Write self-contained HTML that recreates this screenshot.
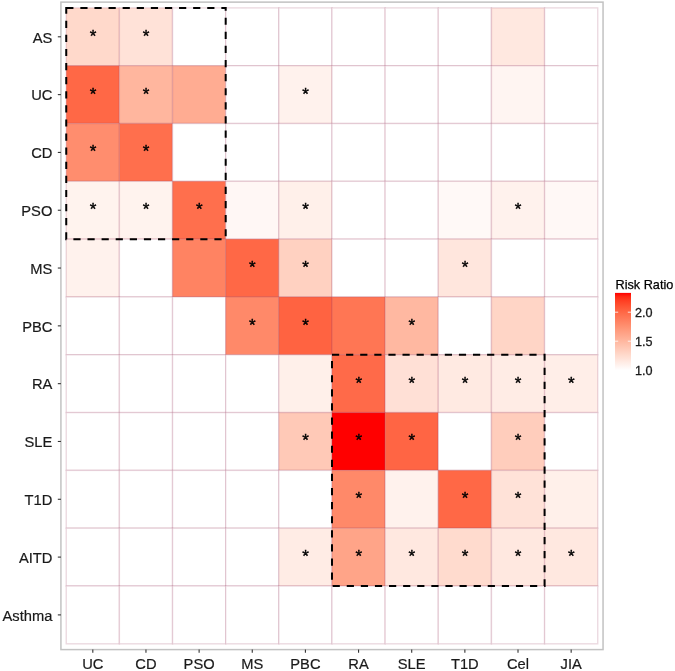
<!DOCTYPE html>
<html><head><meta charset="utf-8"><style>
html,body{margin:0;padding:0;background:#fff;}
svg{display:block;}
text{font-family:"Liberation Sans",Arial,sans-serif;}
</style></head><body>
<svg width="675" height="671" viewBox="0 0 675 671">
<rect width="675" height="671" fill="#fff"/>
<g stroke="#A04868" stroke-opacity="0.2" stroke-width="1.4">
<rect x="66.24" y="7.90" width="53.15" height="57.81" fill="#FFD9CB"/>
<rect x="119.39" y="7.90" width="53.15" height="57.81" fill="#FFE2D8"/>
<rect x="172.54" y="7.90" width="53.15" height="57.81" fill="#FFFFFF"/>
<rect x="225.69" y="7.90" width="53.15" height="57.81" fill="#FFFFFF"/>
<rect x="278.84" y="7.90" width="53.15" height="57.81" fill="#FFFFFF"/>
<rect x="331.99" y="7.90" width="53.15" height="57.81" fill="#FFFFFF"/>
<rect x="385.14" y="7.90" width="53.15" height="57.81" fill="#FFFFFF"/>
<rect x="438.29" y="7.90" width="53.15" height="57.81" fill="#FFFFFF"/>
<rect x="491.44" y="7.90" width="53.15" height="57.81" fill="#FFE8E0"/>
<rect x="544.59" y="7.90" width="53.15" height="57.81" fill="#FFFFFF"/>
<rect x="66.24" y="65.71" width="53.15" height="57.81" fill="#FF6846"/>
<rect x="119.39" y="65.71" width="53.15" height="57.81" fill="#FFB69E"/>
<rect x="172.54" y="65.71" width="53.15" height="57.81" fill="#FFAC92"/>
<rect x="225.69" y="65.71" width="53.15" height="57.81" fill="#FFFFFF"/>
<rect x="278.84" y="65.71" width="53.15" height="57.81" fill="#FFF2ED"/>
<rect x="331.99" y="65.71" width="53.15" height="57.81" fill="#FFFFFF"/>
<rect x="385.14" y="65.71" width="53.15" height="57.81" fill="#FFFFFF"/>
<rect x="438.29" y="65.71" width="53.15" height="57.81" fill="#FFFFFF"/>
<rect x="491.44" y="65.71" width="53.15" height="57.81" fill="#FFF5F2"/>
<rect x="544.59" y="65.71" width="53.15" height="57.81" fill="#FFFFFF"/>
<rect x="66.24" y="123.52" width="53.15" height="57.81" fill="#FF8D6E"/>
<rect x="119.39" y="123.52" width="53.15" height="57.81" fill="#FF6F4D"/>
<rect x="172.54" y="123.52" width="53.15" height="57.81" fill="#FFFFFF"/>
<rect x="225.69" y="123.52" width="53.15" height="57.81" fill="#FFFFFF"/>
<rect x="278.84" y="123.52" width="53.15" height="57.81" fill="#FFFFFF"/>
<rect x="331.99" y="123.52" width="53.15" height="57.81" fill="#FFFFFF"/>
<rect x="385.14" y="123.52" width="53.15" height="57.81" fill="#FFFFFF"/>
<rect x="438.29" y="123.52" width="53.15" height="57.81" fill="#FFFFFF"/>
<rect x="491.44" y="123.52" width="53.15" height="57.81" fill="#FFFFFF"/>
<rect x="544.59" y="123.52" width="53.15" height="57.81" fill="#FFFFFF"/>
<rect x="66.24" y="181.33" width="53.15" height="57.81" fill="#FFF3EE"/>
<rect x="119.39" y="181.33" width="53.15" height="57.81" fill="#FFF3EE"/>
<rect x="172.54" y="181.33" width="53.15" height="57.81" fill="#FF6F4D"/>
<rect x="225.69" y="181.33" width="53.15" height="57.81" fill="#FFF7F5"/>
<rect x="278.84" y="181.33" width="53.15" height="57.81" fill="#FFF0EA"/>
<rect x="331.99" y="181.33" width="53.15" height="57.81" fill="#FFFFFF"/>
<rect x="385.14" y="181.33" width="53.15" height="57.81" fill="#FFFFFF"/>
<rect x="438.29" y="181.33" width="53.15" height="57.81" fill="#FFF9F7"/>
<rect x="491.44" y="181.33" width="53.15" height="57.81" fill="#FFF2ED"/>
<rect x="544.59" y="181.33" width="53.15" height="57.81" fill="#FFF8F6"/>
<rect x="66.24" y="239.14" width="53.15" height="57.81" fill="#FFF2ED"/>
<rect x="119.39" y="239.14" width="53.15" height="57.81" fill="#FFFFFF"/>
<rect x="172.54" y="239.14" width="53.15" height="57.81" fill="#FF8362"/>
<rect x="225.69" y="239.14" width="53.15" height="57.81" fill="#FF6846"/>
<rect x="278.84" y="239.14" width="53.15" height="57.81" fill="#FFD1C1"/>
<rect x="331.99" y="239.14" width="53.15" height="57.81" fill="#FFFFFF"/>
<rect x="385.14" y="239.14" width="53.15" height="57.81" fill="#FFFFFF"/>
<rect x="438.29" y="239.14" width="53.15" height="57.81" fill="#FFE6DD"/>
<rect x="491.44" y="239.14" width="53.15" height="57.81" fill="#FFFFFF"/>
<rect x="544.59" y="239.14" width="53.15" height="57.81" fill="#FFFFFF"/>
<rect x="66.24" y="296.95" width="53.15" height="57.81" fill="#FFFFFF"/>
<rect x="119.39" y="296.95" width="53.15" height="57.81" fill="#FFFFFF"/>
<rect x="172.54" y="296.95" width="53.15" height="57.81" fill="#FFFFFF"/>
<rect x="225.69" y="296.95" width="53.15" height="57.81" fill="#FF8969"/>
<rect x="278.84" y="296.95" width="53.15" height="57.81" fill="#FF6341"/>
<rect x="331.99" y="296.95" width="53.15" height="57.81" fill="#FF7654"/>
<rect x="385.14" y="296.95" width="53.15" height="57.81" fill="#FFB8A1"/>
<rect x="438.29" y="296.95" width="53.15" height="57.81" fill="#FFFFFF"/>
<rect x="491.44" y="296.95" width="53.15" height="57.81" fill="#FFD5C6"/>
<rect x="544.59" y="296.95" width="53.15" height="57.81" fill="#FFFFFF"/>
<rect x="66.24" y="354.76" width="53.15" height="57.81" fill="#FFFFFF"/>
<rect x="119.39" y="354.76" width="53.15" height="57.81" fill="#FFFFFF"/>
<rect x="172.54" y="354.76" width="53.15" height="57.81" fill="#FFFFFF"/>
<rect x="225.69" y="354.76" width="53.15" height="57.81" fill="#FFFFFF"/>
<rect x="278.84" y="354.76" width="53.15" height="57.81" fill="#FFF0EA"/>
<rect x="331.99" y="354.76" width="53.15" height="57.81" fill="#FF6A49"/>
<rect x="385.14" y="354.76" width="53.15" height="57.81" fill="#FFE0D6"/>
<rect x="438.29" y="354.76" width="53.15" height="57.81" fill="#FFEAE2"/>
<rect x="491.44" y="354.76" width="53.15" height="57.81" fill="#FFECE5"/>
<rect x="544.59" y="354.76" width="53.15" height="57.81" fill="#FFEEE8"/>
<rect x="66.24" y="412.57" width="53.15" height="57.81" fill="#FFFFFF"/>
<rect x="119.39" y="412.57" width="53.15" height="57.81" fill="#FFFFFF"/>
<rect x="172.54" y="412.57" width="53.15" height="57.81" fill="#FFFFFF"/>
<rect x="225.69" y="412.57" width="53.15" height="57.81" fill="#FFFFFF"/>
<rect x="278.84" y="412.57" width="53.15" height="57.81" fill="#FFC9B7"/>
<rect x="331.99" y="412.57" width="53.15" height="57.81" fill="#FF0000"/>
<rect x="385.14" y="412.57" width="53.15" height="57.81" fill="#FF6544"/>
<rect x="438.29" y="412.57" width="53.15" height="57.81" fill="#FFFFFF"/>
<rect x="491.44" y="412.57" width="53.15" height="57.81" fill="#FFCDBC"/>
<rect x="544.59" y="412.57" width="53.15" height="57.81" fill="#FFFFFF"/>
<rect x="66.24" y="470.38" width="53.15" height="57.81" fill="#FFFFFF"/>
<rect x="119.39" y="470.38" width="53.15" height="57.81" fill="#FFFFFF"/>
<rect x="172.54" y="470.38" width="53.15" height="57.81" fill="#FFFFFF"/>
<rect x="225.69" y="470.38" width="53.15" height="57.81" fill="#FFFFFF"/>
<rect x="278.84" y="470.38" width="53.15" height="57.81" fill="#FFFFFF"/>
<rect x="331.99" y="470.38" width="53.15" height="57.81" fill="#FF8969"/>
<rect x="385.14" y="470.38" width="53.15" height="57.81" fill="#FFF2ED"/>
<rect x="438.29" y="470.38" width="53.15" height="57.81" fill="#FF6846"/>
<rect x="491.44" y="470.38" width="53.15" height="57.81" fill="#FFE2D8"/>
<rect x="544.59" y="470.38" width="53.15" height="57.81" fill="#FFF0EA"/>
<rect x="66.24" y="528.19" width="53.15" height="57.81" fill="#FFFFFF"/>
<rect x="119.39" y="528.19" width="53.15" height="57.81" fill="#FFFFFF"/>
<rect x="172.54" y="528.19" width="53.15" height="57.81" fill="#FFFFFF"/>
<rect x="225.69" y="528.19" width="53.15" height="57.81" fill="#FFFFFF"/>
<rect x="278.84" y="528.19" width="53.15" height="57.81" fill="#FFECE5"/>
<rect x="331.99" y="528.19" width="53.15" height="57.81" fill="#FFA488"/>
<rect x="385.14" y="528.19" width="53.15" height="57.81" fill="#FFE8E0"/>
<rect x="438.29" y="528.19" width="53.15" height="57.81" fill="#FFDBCE"/>
<rect x="491.44" y="528.19" width="53.15" height="57.81" fill="#FFE8E0"/>
<rect x="544.59" y="528.19" width="53.15" height="57.81" fill="#FFE8E0"/>
<rect x="66.24" y="586.00" width="53.15" height="57.81" fill="#FFFFFF"/>
<rect x="119.39" y="586.00" width="53.15" height="57.81" fill="#FFFFFF"/>
<rect x="172.54" y="586.00" width="53.15" height="57.81" fill="#FFFFFF"/>
<rect x="225.69" y="586.00" width="53.15" height="57.81" fill="#FFFFFF"/>
<rect x="278.84" y="586.00" width="53.15" height="57.81" fill="#FFFFFF"/>
<rect x="331.99" y="586.00" width="53.15" height="57.81" fill="#FFFFFF"/>
<rect x="385.14" y="586.00" width="53.15" height="57.81" fill="#FFFFFF"/>
<rect x="438.29" y="586.00" width="53.15" height="57.81" fill="#FFFFFF"/>
<rect x="491.44" y="586.00" width="53.15" height="57.81" fill="#FFFFFF"/>
<rect x="544.59" y="586.00" width="53.15" height="57.81" fill="#FFFFFF"/>
</g>
<g font-size="17" text-anchor="middle" fill="#000" stroke="#000" stroke-width="0.4">
<text x="92.97" y="41.76">*</text>
<text x="146.11" y="41.76">*</text>
<text x="92.97" y="99.57">*</text>
<text x="146.11" y="99.57">*</text>
<text x="305.56" y="99.57">*</text>
<text x="92.97" y="157.38">*</text>
<text x="146.11" y="157.38">*</text>
<text x="92.97" y="215.19">*</text>
<text x="146.11" y="215.19">*</text>
<text x="199.27" y="215.19">*</text>
<text x="305.56" y="215.19">*</text>
<text x="518.16" y="215.19">*</text>
<text x="252.41" y="272.99">*</text>
<text x="305.56" y="272.99">*</text>
<text x="465.01" y="272.99">*</text>
<text x="252.41" y="330.81">*</text>
<text x="305.56" y="330.81">*</text>
<text x="411.86" y="330.81">*</text>
<text x="358.71" y="388.61">*</text>
<text x="411.86" y="388.61">*</text>
<text x="465.01" y="388.61">*</text>
<text x="518.16" y="388.61">*</text>
<text x="571.31" y="388.61">*</text>
<text x="305.56" y="446.43">*</text>
<text x="358.71" y="446.43">*</text>
<text x="411.86" y="446.43">*</text>
<text x="518.16" y="446.43">*</text>
<text x="358.71" y="504.23">*</text>
<text x="465.01" y="504.23">*</text>
<text x="518.16" y="504.23">*</text>
<text x="305.56" y="562.05">*</text>
<text x="358.71" y="562.05">*</text>
<text x="411.86" y="562.05">*</text>
<text x="465.01" y="562.05">*</text>
<text x="518.16" y="562.05">*</text>
<text x="571.31" y="562.05">*</text>
</g>
<rect x="66.24" y="7.90" width="159.45" height="231.24" fill="none" stroke="#000" stroke-width="2" stroke-dasharray="7.2 6.9"/>
<rect x="331.99" y="354.76" width="212.60" height="231.24" fill="none" stroke="#000" stroke-width="2" stroke-dasharray="7.2 6.9"/>
<rect x="60.92" y="2.12" width="542.13" height="647.47" fill="none" stroke="#C2C2C2" stroke-width="1.5"/>
<g stroke="#333" stroke-width="1.1">
<line x1="57.82" y1="36.80" x2="60.92" y2="36.80"/>
<line x1="57.82" y1="94.62" x2="60.92" y2="94.62"/>
<line x1="57.82" y1="152.43" x2="60.92" y2="152.43"/>
<line x1="57.82" y1="210.24" x2="60.92" y2="210.24"/>
<line x1="57.82" y1="268.04" x2="60.92" y2="268.04"/>
<line x1="57.82" y1="325.86" x2="60.92" y2="325.86"/>
<line x1="57.82" y1="383.66" x2="60.92" y2="383.66"/>
<line x1="57.82" y1="441.48" x2="60.92" y2="441.48"/>
<line x1="57.82" y1="499.28" x2="60.92" y2="499.28"/>
<line x1="57.82" y1="557.10" x2="60.92" y2="557.10"/>
<line x1="57.82" y1="614.90" x2="60.92" y2="614.90"/>
<line x1="92.81" y1="649.59" x2="92.81" y2="652.69"/>
<line x1="145.96" y1="649.59" x2="145.96" y2="652.69"/>
<line x1="199.12" y1="649.59" x2="199.12" y2="652.69"/>
<line x1="252.26" y1="649.59" x2="252.26" y2="652.69"/>
<line x1="305.41" y1="649.59" x2="305.41" y2="652.69"/>
<line x1="358.56" y1="649.59" x2="358.56" y2="652.69"/>
<line x1="411.71" y1="649.59" x2="411.71" y2="652.69"/>
<line x1="464.87" y1="649.59" x2="464.87" y2="652.69"/>
<line x1="518.01" y1="649.59" x2="518.01" y2="652.69"/>
<line x1="571.16" y1="649.59" x2="571.16" y2="652.69"/>
</g>
<g font-size="14.7" fill="#1a1a1a" stroke="#1a1a1a" stroke-width="0.2">
<text x="52.35" y="42.51" text-anchor="end">AS</text>
<text x="52.35" y="100.32" text-anchor="end">UC</text>
<text x="52.35" y="158.12" text-anchor="end">CD</text>
<text x="52.35" y="215.94" text-anchor="end">PSO</text>
<text x="52.35" y="273.74" text-anchor="end">MS</text>
<text x="52.35" y="331.56" text-anchor="end">PBC</text>
<text x="52.35" y="389.36" text-anchor="end">RA</text>
<text x="52.35" y="447.18" text-anchor="end">SLE</text>
<text x="52.35" y="504.98" text-anchor="end">T1D</text>
<text x="52.35" y="562.80" text-anchor="end">AITD</text>
<text x="52.35" y="620.61" text-anchor="end">Asthma</text>
<text x="92.81" y="669.20" text-anchor="middle">UC</text>
<text x="145.96" y="669.20" text-anchor="middle">CD</text>
<text x="199.12" y="669.20" text-anchor="middle">PSO</text>
<text x="252.26" y="669.20" text-anchor="middle">MS</text>
<text x="305.41" y="669.20" text-anchor="middle">PBC</text>
<text x="358.56" y="669.20" text-anchor="middle">RA</text>
<text x="411.71" y="669.20" text-anchor="middle">SLE</text>
<text x="464.87" y="669.20" text-anchor="middle">T1D</text>
<text x="518.01" y="669.20" text-anchor="middle">Cel</text>
<text x="571.16" y="669.20" text-anchor="middle">JIA</text>
</g>
<defs><linearGradient id="lg" x1="0" y1="1" x2="0" y2="0">
<stop offset="0.00" stop-color="#FFFFFF"/>
<stop offset="0.05" stop-color="#FFF5F2"/>
<stop offset="0.10" stop-color="#FFECE5"/>
<stop offset="0.15" stop-color="#FFE2D8"/>
<stop offset="0.20" stop-color="#FFD9CB"/>
<stop offset="0.25" stop-color="#FFCFBF"/>
<stop offset="0.30" stop-color="#FFC6B2"/>
<stop offset="0.35" stop-color="#FFBCA6"/>
<stop offset="0.40" stop-color="#FFB299"/>
<stop offset="0.45" stop-color="#FFA88D"/>
<stop offset="0.50" stop-color="#FF9E81"/>
<stop offset="0.55" stop-color="#FF9475"/>
<stop offset="0.60" stop-color="#FF8969"/>
<stop offset="0.65" stop-color="#FF7E5E"/>
<stop offset="0.70" stop-color="#FF7352"/>
<stop offset="0.75" stop-color="#FF6846"/>
<stop offset="0.80" stop-color="#FF5B3A"/>
<stop offset="0.85" stop-color="#FF4D2E"/>
<stop offset="0.90" stop-color="#FF3E22"/>
<stop offset="0.95" stop-color="#FF2913"/>
<stop offset="1.00" stop-color="#FF0000"/>
</linearGradient></defs>
<rect x="615" y="292.90" width="16" height="77.30" fill="url(#lg)"/>
<line x1="615" x2="618.2" y1="370.20" y2="370.20" stroke="#fff" stroke-width="0.8"/>
<line x1="627.8" x2="631" y1="370.20" y2="370.20" stroke="#fff" stroke-width="0.8"/>
<text x="635" y="374.80" font-size="12.6" fill="#1a1a1a" stroke="#1a1a1a" stroke-width="0.3">1.0</text>
<line x1="615" x2="618.2" y1="341.20" y2="341.20" stroke="#fff" stroke-width="0.8"/>
<line x1="627.8" x2="631" y1="341.20" y2="341.20" stroke="#fff" stroke-width="0.8"/>
<text x="635" y="345.80" font-size="12.6" fill="#1a1a1a" stroke="#1a1a1a" stroke-width="0.3">1.5</text>
<line x1="615" x2="618.2" y1="312.20" y2="312.20" stroke="#fff" stroke-width="0.8"/>
<line x1="627.8" x2="631" y1="312.20" y2="312.20" stroke="#fff" stroke-width="0.8"/>
<text x="635" y="316.80" font-size="12.6" fill="#1a1a1a" stroke="#1a1a1a" stroke-width="0.3">2.0</text>
<text x="615.5" y="288.9" font-size="12.7" fill="#000" stroke="#000" stroke-width="0.25">Risk Ratio</text>
</svg></body></html>
